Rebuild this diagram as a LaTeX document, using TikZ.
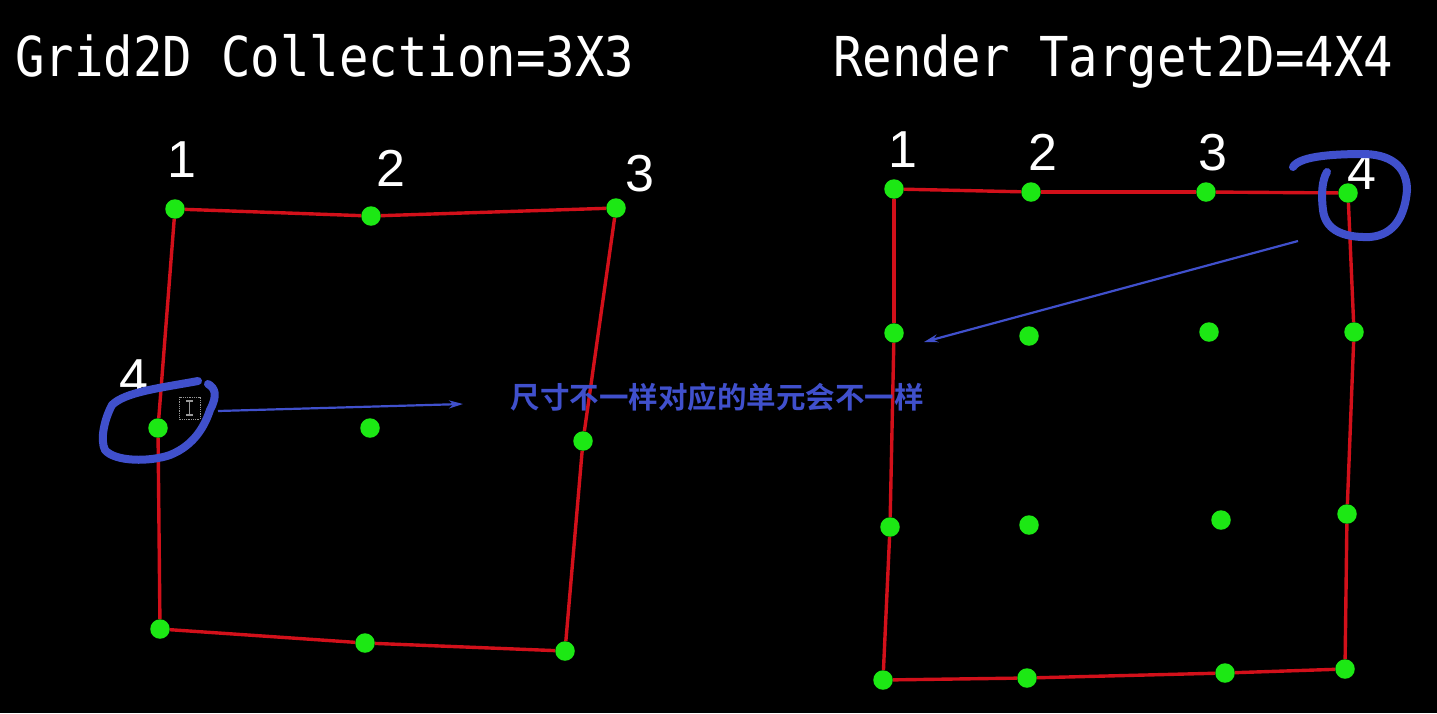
\documentclass[tikz,border=0pt]{standalone}
\usepackage{fontspec}
\usepackage{tikz}
\usetikzlibrary{arrows.meta}
\newfontfamily\titlefont[FakeStretch=0.89]{DejaVu Sans Mono}
\newfontfamily\digitfont{Liberation Sans}
\newfontfamily\cjk[BoldFont={Noto Sans CJK SC Bold}]{Noto Sans CJK SC}
\definecolor{dotgreen}{RGB}{28,232,20}
\definecolor{linered}{RGB}{210,16,26}
\definecolor{penblue}{RGB}{64,80,204}

\begin{document}
\begin{tikzpicture}
  [x=1pt,y=-1pt,
   dot/.style={circle,fill=dotgreen,inner sep=0pt,minimum size=19.5pt},
   num/.style={text=white,font=\digitfont\fontsize{52}{52}\selectfont},
   title/.style={text=white,font=\titlefont\fontsize{55}{55}\selectfont,anchor=base west,inner sep=0pt},
   edge/.style={linered,line width=3.4pt},
   loop/.style={penblue,line width=8pt,line cap=round,line join=round},
   hint/.style={penblue,line width=2.2pt,-{Stealth[length=14pt,width=8pt]}}]
  \fill[black] (0,0) rectangle (1437,713);
  \useasboundingbox (0,0) rectangle (1437,713);

  % titles
  \node[title] (t1) at (15,76)  {Grid2D Collection=3X3};
  \node[title] (t2) at (833,76) {Render Target2D=4X4};

  % left grid 3x3
  \node[dot] (a1) at (175,209) {};
  \node[dot] (a2) at (371,216) {};
  \node[dot] (a3) at (616,208) {};
  \node[dot] (a4) at (158,428) {};
  \node[dot] (a5) at (370,428) {};
  \node[dot] (a6) at (583,441) {};
  \node[dot] (a7) at (160,629) {};
  \node[dot] (a8) at (365,643) {};
  \node[dot] (a9) at (565,651) {};

  \foreach \from/\to in {a1/a2,a2/a3,a3/a6,a6/a9,a9/a8,a8/a7,a7/a4,a4/a1}
    \draw[edge] (\from) -- (\to);

  \node[num] (la1) at (182,160) {1};
  \node[num] (la2) at (391,168) {2};
  \node[num] (la3) at (640,174) {3};
  \node[num] (la4) at (134,378) {4};

  % right grid 4x4
  \node[dot] (b1)  at (894,189)  {};
  \node[dot] (b2)  at (1031,192) {};
  \node[dot] (b3)  at (1206,192) {};
  \node[dot] (b4)  at (1348,193) {};
  \node[dot] (b5)  at (894,333)  {};
  \node[dot] (b6)  at (1029,336) {};
  \node[dot] (b7)  at (1209,332) {};
  \node[dot] (b8)  at (1354,332) {};
  \node[dot] (b9)  at (890,527)  {};
  \node[dot] (b10) at (1029,525) {};
  \node[dot] (b11) at (1221,520) {};
  \node[dot] (b12) at (1347,514) {};
  \node[dot] (b13) at (883,680)  {};
  \node[dot] (b14) at (1027,678) {};
  \node[dot] (b15) at (1225,673) {};
  \node[dot] (b16) at (1345,669) {};

  \foreach \from/\to in {b1/b2,b2/b3,b3/b4,b4/b8,b8/b12,b12/b16,b16/b15,b15/b14,b14/b13,b13/b9,b9/b5,b5/b1}
    \draw[edge] (\from) -- (\to);

  \node[num] (lb1) at (903,150)  {1};
  \node[num] (lb2) at (1043,152) {2};
  \node[num] (lb3) at (1213,153) {3};
  \node[num] (lb4) at (1362,172) {4};

  % marks
  \draw[loop] (198,381) .. controls (160,388) and (125,392) .. (112,405)
    .. controls (104,420) and (100,440) .. (105,450)
    .. controls (115,462) and (150,462) .. (170,455)
    .. controls (195,445) and (205,425) .. (210,410)
    .. controls (218,395) and (215,388) .. (208,384);
  \draw[loop] (1293,167) .. controls (1300,155) and (1340,154) .. (1365,154)
    .. controls (1395,155) and (1407,170) .. (1407,190)
    .. controls (1405,215) and (1395,235) .. (1370,237)
    .. controls (1340,238) and (1325,228) .. (1323,210)
    .. controls (1321,195) and (1322,180) .. (1327,172);

  % cursor
  \draw[gray!80,densely dotted,line width=0.8pt] (179,397) rectangle (200,419);
  \draw[gray!80,line width=1.2pt] (186,401) -- (193,401) (189.5,401) -- (189.5,415) (186,415) -- (193,415);

  \coordinate (s1) at (218,411);
  \coordinate (e1) at (463,404);
  \coordinate (s2) at (1298,241);
  \coordinate (e2) at (924,342);
  \draw[hint] (s1) -- (e1);
  \draw[hint] (s2) -- (e2);

  \node[text=penblue,font=\cjk\bfseries\fontsize{29.5}{29.5}\selectfont] (note) at (717,397) {尺寸不一样对应的单元会不一样};
\end{tikzpicture}
\end{document}
